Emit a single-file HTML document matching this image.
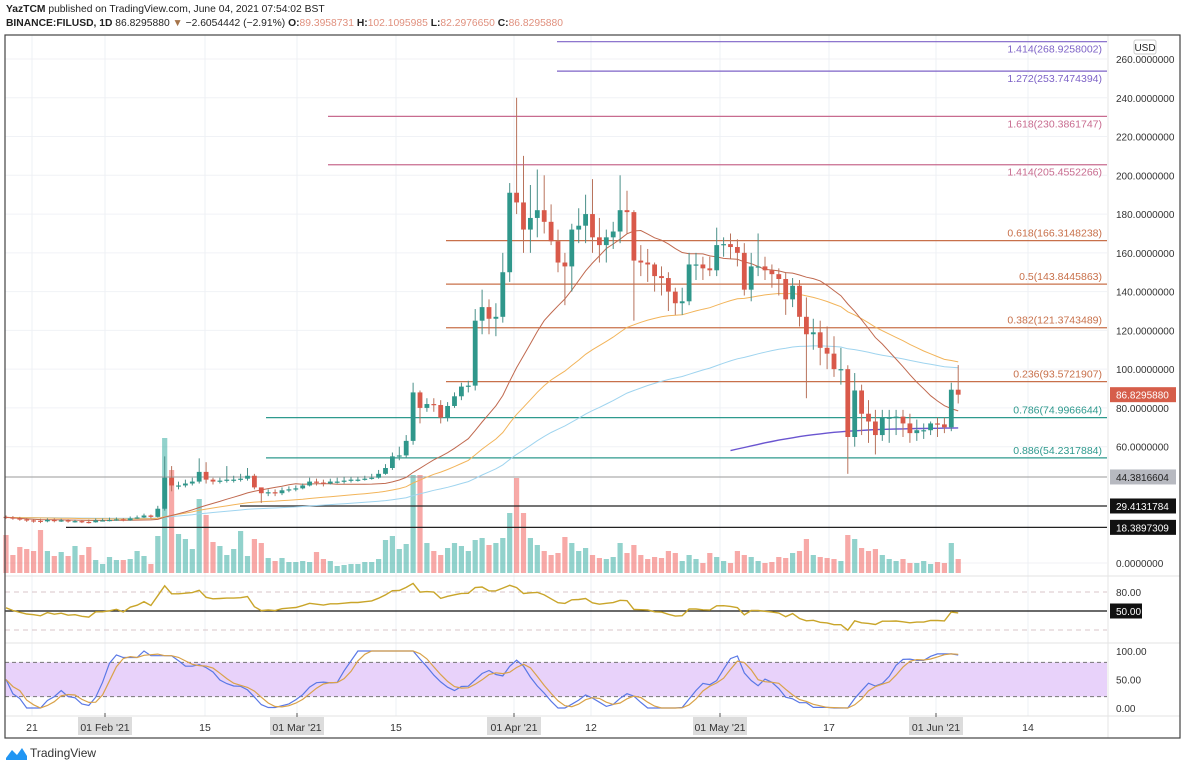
<!DOCTYPE html>
<html><head><meta charset="utf-8">
<style>
html,body{margin:0;padding:0;background:#fff;}
body{width:1186px;height:768px;overflow:hidden;font-family:"Liberation Sans",sans-serif;}
svg text{font-family:"Liberation Sans",sans-serif;}
</style></head>
<body>
<svg id="chart" width="1186" height="768" viewBox="0 0 1186 768" xmlns="http://www.w3.org/2000/svg">
  <rect x="0" y="0" width="1186" height="768" fill="#ffffff"/>
  <text x="6" y="12" font-size="10.3" fill="#222"><tspan font-weight="bold">YazTCM</tspan> published on TradingView.com, June 04, 2021 07:54:02 BST</text>
  <text x="6" y="26" font-size="10.3" fill="#222"><tspan font-weight="bold">BINANCE:FILUSD, 1D</tspan> 86.8295880 <tspan fill="#a5744a">▼</tspan> −2.6054442 (−2.91%) <tspan font-weight="bold">O:</tspan><tspan fill="#e0907e">89.3958731</tspan> <tspan font-weight="bold">H:</tspan><tspan fill="#e0907e">102.1095985</tspan> <tspan font-weight="bold">L:</tspan><tspan fill="#e0907e">82.2976650</tspan> <tspan font-weight="bold">C:</tspan><tspan fill="#e0907e">86.8295880</tspan></text>
  <g id="grid"></g>
  <g id="vol"></g>
  <g id="levels"></g>
  <g id="mas"></g>
  <g id="candles"></g>
  <g id="rsi"></g>
  <g id="stoch"></g>
  <g id="axis"></g>
  <g id="taxis"></g>
  <rect x="5" y="35" width="1175" height="703" fill="none" stroke="#444" stroke-width="1.2"/>
  <g>
    <path d="M6 758 L12 750 L17 755 L22 748 L27 756 L27 760 L6 760 Z" fill="#2196f3"/>
    <text x="30" y="757" font-size="12" fill="#333">TradingView</text>
  </g>
</svg>
<script>
const closes=[23.5,23.0,22.5,22.0,21.8,21.5,22.2,21.8,22.0,21.5,21.6,21.2,21.0,22.0,22.0,22.2,22.5,22.0,23.0,23.5,24.5,23.8,
28,44,40,40,41,42,47,43,42,42.5,43,43,43.5,45,39,
36,36.5,36,37.5,38,38.5,40,42,41.5,41,42,42,42.5,43,43,43.5,44,46,
49,55,55.5,63,
88,80,82,81.5,75,81,86,91,91.5,125,132,126,127,150,191,186,172,178,182,176,166,155,153,172,174,180,168,164,168,171,182,181,156,155,154,148,147,140,134,
135,154,154,152,151,164,164.5,163,160,141,153,153,151,149,146.5,136,143,127,118,119,111,108,100,100,65,89,77,73,66,75,75,75.5,72,67,68.5,68.5,72,71.5,70,89.4,86.83];
const highs=[24.5,24.2,23.8,23.2,22.6,22.8,23.0,23.0,22.8,22.6,22.3,22.0,22.4,23.0,23.0,23.4,23.5,23.2,24.0,24.5,25.5,25.0,
29.5,55,50,42,43,44,54,52,44,44,50,45,46,49,46,
38,38,38,39,39.5,40,41,44,43.5,43,43.5,44,44.5,44.5,44.5,45,46,48,
51,57,60,66,
93,89,85,85,84,83,88,93,94,131,141,136,134,160,196,240,210,195,203,200,185,172,160,175,183,190,198,178,172,176,200,192,182,164,162,155,153,150,142,
142,160,160,158,158,173,168,170,167,165,160,170,158,154,152,150,147,146,137,126,125,122,117,111,102,98,92,84,79,79,79,79,79,77,74,72,73,75,75,93,102.1];
const lows=[22.8,22.3,21.8,21.2,20.8,20.6,21.0,21.0,21.2,20.8,20.8,20.6,20.4,20.8,21.4,21.5,21.8,21.5,21.8,22.8,23.2,23.0,
23.5,27,37,38,39,40,41,41,40.5,41,41.5,41.5,42,42.5,38,
31,34.5,34.5,35,36.5,37,38,39.5,40,39.5,40.5,41,41,41.5,42,42.5,43,43.5,
45.5,48,53,54,
61,72,78,78,72,73,80,84,88,89,118,118,117,124,145,180,160,160,168,170,164,150,133,140,165,165,160,155,155,162,165,170,125,148,145,140,138,130,128,
128,133,146,146,148,148,158,157,153,138,135,148,146,142,138,128,132,122,85,110,102,100,96,92,46,60,66,62,56,63,62,66,65,62,63,64,66,65,67,68,82.3];
const volumes=[38,18,26,24,22,43,22,17,21,17,27,18,26,13,9,16,13,13,14,22,17,9,37,
135,103,39,34,24,74,58,31,27,18,24,42,17,34,30,15,12,15,11,11,12,11,21,14,12,7,8,9,9,11,11,14,33,37,24,29,98,98,
30,22,18,25,30,27,22,33,35,28,30,35,60,95,60,35,28,22,18,20,36,30,22,25,18,15,14,16,30,20,28,18,14,16,15,22,20,12,18,14,10,20,16,12,10,22,18,16,12,10,11,16,15,20,22,34,18,16,15,14,12,38,34,25,22,24,18,14,12,14,10,10,12,9,11,10,30,14];
const ma200Start=105;
const ma200=[58,58.8,59.6,60.4,61.2,62,62.7,63.4,64,64.6,65.2,65.7,66.2,66.6,67,67.4,67.7,68,68.2,68.4,68.6,68.8,68.9,69,69.1,69.2,69.3,69.4,69.4,69.5,69.5,69.6,69.6,69.7];
const priceTicks=[260,240,220,200,180,160,140,120,100,80,60,0];
const fibLabels=["1.414(268.9258002)","1.272(253.7474394)","1.618(230.3861747)","1.414(205.4552266)","0.618(166.3148238)","0.5(143.8445863)","0.382(121.3743489)","0.236(93.5721907)","0.786(74.9966644)","0.886(54.2317884)"];
const fibValues=[268.9258002,253.7474394,230.3861747,205.4552266,166.3148238,143.8445863,121.3743489,93.5721907,74.9966644,54.2317884];
const fibStart=[557,557,328,328,446,446,446,446,266,266];
const fibBelow=[1,1,1,1,0,0,0,0,0,0];
const fibColors=["#7e63c7","#7e63c7","#c86b8f","#c86b8f","#c8704a","#c8704a","#c8704a","#c8704a","#2e9a8e","#2e9a8e"];
const srValues=[44.3816604,29.4131784,18.3897309];
const srStart=[5,240,66];
const timeLabels=["21","01 Feb '21","15","01 Mar '21","15","01 Apr '21","12","01 May '21","17","01 Jun '21","14"];
const timeX=[32,105,205,297,396,514,591,720,829,936,1028];

const NS="http://www.w3.org/2000/svg";
function mk(parent,tag,attrs){const e=document.createElementNS(NS,tag);for(const k in attrs)e.setAttribute(k,attrs[k]);parent.appendChild(e);return e;}
const X=i=>6+i*6.9;
const Y=p=>563-p*1.9385;
const YR=v=>611-(v-50)*0.633;
const YS=v=>708-v*0.57;
const VB=573;
const PR=1107;
const G=id=>document.getElementById(id);
const opens=closes.map((c,i)=>i===0?23.8:closes[i-1]);

// grid
const grid=G('grid');
priceTicks.forEach(p=>{const l=mk(grid,'line',{x1:5,x2:PR,y1:Y(p),y2:Y(p),stroke:'#f0f2f6','stroke-width':1});

});
timeX.forEach(x=>{const l=mk(grid,'line',{x1:x,x2:x,y1:35,y2:716,stroke:'#eef0f4','stroke-width':1});

});
mk(grid,'line',{x1:PR+1,x2:PR+1,y1:35,y2:738,stroke:'#e6e6e6'});
[576,643,716].forEach(y=>{const l=mk(grid,'line',{x1:5,x2:1180,y1:y,y2:y,stroke:'#e3e3e3'});

});

// volume
const vol=G('vol');
volumes.forEach((v,i)=>{const up=closes[i]>=opens[i];
const r=mk(vol,'rect',{x:X(i)-2.6,y:VB-v,width:5.2,height:v,fill:up?'rgba(38,166,154,0.5)':'rgba(239,83,80,0.5)'});

});

// levels
const lv=G('levels');
fibValues.forEach((v,i)=>{const y=Y(v);
const l=mk(lv,'line',{x1:fibStart[i],x2:PR,y1:y,y2:y,stroke:fibColors[i],'stroke-width':1.2});


const t=mk(lv,'text',{x:1102,y:fibBelow[i]?y+11:y-4,'text-anchor':'end','font-size':10.5,fill:fibColors[i]});t.textContent=fibLabels[i];

});
srValues.forEach((v,i)=>{const y=Y(v);
const l=mk(lv,'line',{x1:srStart[i],x2:PR,y1:y,y2:y,stroke:i===0?'#9a9a9a':'#222','stroke-width':i===0?1:1.3});

});

// moving averages
function sma(a,n){return a.map((_,i)=>{const s=Math.max(0,i-n+1);let t=0;for(let k=s;k<=i;k++)t+=a[k];return t/(i-s+1);});}
function ema(a,n){let e=a[0];const al=2/(n+1);return a.map(v=>(e=e+(v-e)*al));}
function poly(g,vals,start,color,name,w){const pts=vals.map((v,k)=>X(k+start).toFixed(1)+','+Y(v).toFixed(1)).join(' ');
const p=mk(g,'polyline',{points:pts,fill:'none',stroke:color,'stroke-width':w||1});

}
const mas=G('mas');
poly(mas,ema(closes,100),0,'#9fd4ef','ma-100-line');
poly(mas,ema(closes,50),0,'#f2b45a','ma-50-line');
poly(mas,sma(closes,20),0,'#c0694f','ma-20-line');
poly(mas,ma200,ma200Start,'#6a55d0','ma-200-line',1.4);

// candles
const cg=G('candles');
closes.forEach((c,i)=>{const o=opens[i];const up=c>=o;const col=up?'#2f978b':'#d9594a';
const w=mk(cg,'line',{x1:X(i),x2:X(i),y1:Y(highs[i]),y2:Y(lows[i]),stroke:up?'#4a8f88':'#b8735c','stroke-width':1});


const top=Y(Math.max(o,c)),bot=Y(Math.min(o,c));
const b=mk(cg,'rect',{x:X(i)-2.4,y:top,width:4.8,height:Math.max(1.2,bot-top),fill:col});

});

// RSI (Wilder, seeded)
function rsiCalc(a,n){const out=[55];let ag=0.35,al=0.3;for(let i=1;i<a.length;i++){const d=a[i]-a[i-1];const g=Math.max(d,0),l=Math.max(-d,0);
ag=(ag*(n-1)+g)/n;al=(al*(n-1)+l)/n;out.push(al===0?100:100-100/(1+ag/al));}return out;}
const rsi=rsiCalc(closes,14);
const rg=G('rsi');
[80,20].forEach(v=>{const l=mk(rg,'line',{x1:5,x2:PR,y1:YR(v),y2:YR(v),stroke:'#d8c4c8','stroke-dasharray':'5,4'});

});
mk(rg,'line',{x1:5,x2:PR,y1:YR(50),y2:YR(50),stroke:'#111','stroke-width':1.2});
const rp=mk(rg,'polyline',{points:rsi.map((v,i)=>X(i).toFixed(1)+','+YR(v).toFixed(1)).join(' '),fill:'none',stroke:'#c9a52a','stroke-width':1.4});



// Stoch RSI
const st=rsi.map((v,i)=>{const s=Math.max(0,i-13);const w=rsi.slice(s,i+1);const lo=Math.min(...w),hi=Math.max(...w);return hi-lo<1e-6?50:(v-lo)/(hi-lo)*100;});
const K=sma(st,3),D=sma(K,3);
const sg=G('stoch');
const band=mk(sg,'rect',{x:5,y:YS(80),width:PR-5,height:YS(20)-YS(80),fill:'#e8d2fa'});


[80,20].forEach(v=>{const l=mk(sg,'line',{x1:5,x2:PR,y1:YS(v),y2:YS(v),stroke:'#777','stroke-dasharray':'4,3'});

});
const kp=mk(sg,'polyline',{points:K.map((v,i)=>X(i).toFixed(1)+','+YS(v).toFixed(1)).join(' '),fill:'none',stroke:'#5a78e6','stroke-width':1.2});


const dp=mk(sg,'polyline',{points:D.map((v,i)=>X(i).toFixed(1)+','+YS(v).toFixed(1)).join(' '),fill:'none',stroke:'#d9a24a','stroke-width':1.2});



// price axis
const ax=G('axis');
priceTicks.forEach(p=>{const t=mk(ax,'text',{x:1116,y:Y(p)+4,'font-size':10,fill:'#333'});t.textContent=p.toFixed(7)+'';

});
const usd=mk(ax,'rect',{x:1134,y:40,width:22,height:14,fill:'#fff',stroke:'#ccc',rx:2});


const ut=mk(ax,'text',{x:1145,y:51,'text-anchor':'middle','font-size':10,fill:'#222'});ut.textContent='USD';
function tag(y,txt,bg,fg,name,w){const r=mk(ax,'rect',{x:1110,y:y-7.5,width:w||66,height:15,fill:bg});


const t=mk(ax,'text',{x:1116,y:y+4,'font-size':10,fill:fg});t.textContent=txt;}
tag(Y(closes[closes.length-1]),'86.8295880','#d65e4a','#fff','last-price-tag');
tag(Y(srValues[0]),'44.3816604','#b7b9c0','#222','level-tag-44');
tag(Y(srValues[1]),'29.4131784','#111','#fff','level-tag-29');
tag(Y(srValues[2]),'18.3897309','#111','#fff','level-tag-18');
const r8=mk(ax,'text',{x:1116,y:YR(80)+4,'font-size':10,fill:'#333'});r8.textContent='80.00';
tag(YR(50),'50.00','#111','#fff','rsi-50-tag',32);
[[100,'100.00'],[50,'50.00'],[0,'0.00']].forEach(a=>{const t=mk(ax,'text',{x:1116,y:YS(a[0])+4,'font-size':10,fill:'#333'});t.textContent=a[1];});

// time axis
const ta=G('taxis');
timeLabels.forEach((s,i)=>{const box=s.indexOf("'")>=0;
if(box){const r=mk(ta,'rect',{x:timeX[i]-27,y:717,width:54,height:18,fill:'#dcdcdc'});


mk(ta,'line',{x1:timeX[i],x2:timeX[i],y1:713,y2:717,stroke:'#555'});}
const t=mk(ta,'text',{x:timeX[i],y:731,'text-anchor':'middle','font-size':10.5,fill:'#333'});t.textContent=s;

});
</script>
</body></html>
